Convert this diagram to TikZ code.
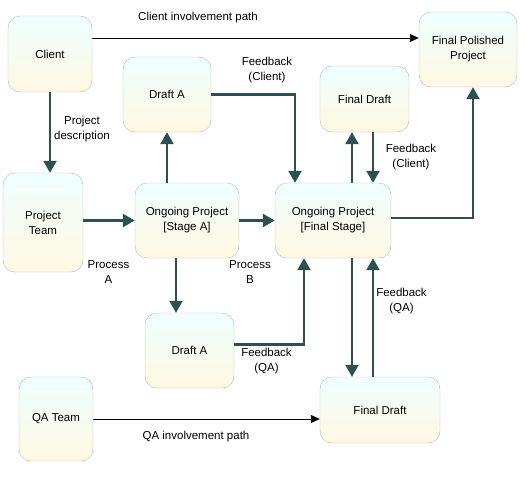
\documentclass[tikz,border=0pt]{standalone}
\usepackage{fontspec}
\setmainfont{Liberation Sans}
\usetikzlibrary{arrows.meta}
\definecolor{slate}{HTML}{2F5050}
\definecolor{boxtop}{HTML}{EEFFFF}
\definecolor{boxbot}{HTML}{FFF8E2}
\definecolor{boxline}{HTML}{B8B8B8}

\begin{document}
\begin{tikzpicture}[x=1pt, y=-1pt,
    every node/.style={font=\fontsize{11.5}{15}\selectfont},
    box/.style={draw=boxline, rounded corners=12pt, top color=boxtop, bottom color=boxbot, align=center, inner sep=2pt},
    flow/.style={-{Triangle[length=12pt, width=13pt]}, line width=2.5pt, slate},
    involve/.style={-{Triangle[length=9pt, width=8pt]}, line width=0.9pt, black},
    lbl/.style={align=center}]
    \useasboundingbox (0,0) rectangle (525,480);

    % Boxes
    \node[box, minimum width=84pt, minimum height=76pt] (client) at (50,54) {Client};
    \node[box, minimum width=88pt, minimum height=75pt] (draftA) at (167,94.5) {Draft A};
    \node[box, minimum width=80pt, minimum height=99pt] (team) at (43,222.5) {Project\\Team};
    \node[box, minimum width=104pt, minimum height=75pt] (stageA) at (187,220.5) {Ongoing Project\\{[Stage A]}};
    \node[box, minimum width=98pt, minimum height=75pt] (polished) at (468,49.5) {Final Polished\\Project};
    \node[box, minimum width=89pt, minimum height=66pt] (finalA) at (364.5,99) {Final Draft};
    \node[box, minimum width=116pt, minimum height=75pt] (stageF) at (333,220.5) {Ongoing Project\\{[Final Stage]}};
    \node[box, minimum width=89pt, minimum height=75pt] (draftB) at (189.5,350.5) {Draft A};
    \node[box, minimum width=74pt, minimum height=84pt] (qa) at (56,419) {QA Team};
    \node[box, minimum width=120pt, minimum height=66pt] (finalB) at (380,410) {Final Draft};

    % Involvement paths
    \coordinate (cp) at ([yshift=16pt]client.east);
    \draw[involve] (cp) -- (cp -| polished.west);
    \node[lbl] (cpl) at (198,18) {Client involvement path};
    \draw[involve] (qa.east) -- (qa.east -| finalB.west);
    \node[lbl] (qpl) at (196,437) {QA involvement path};

    % Process A
    \draw[flow] (client.south) -- (client.south |- team.north);
    \node[lbl] (desc) at (82,129) {Project\\description};
    \draw[flow] (team.east |- stageA.west) -- (stageA.west);
    \draw[flow] (stageA.north -| draftA.south) -- (draftA.south);
    \coordinate (sa) at ([xshift=-11pt]stageA.south);
    \draw[flow] (sa) -- (sa |- draftB.north);
    \node[lbl] (procA) at (108.5,272.5) {Process\\A};

    % Process B
    \draw[flow] (stageA.east) -- (stageF.west);
    \draw[flow] (draftA.east) -| ([xshift=-38pt]stageF.north);
    \node[lbl] (fbc1) at (267,70) {Feedback\\(Client)};
    \draw[flow] ([yshift=6pt]draftB.east) -| ([xshift=-29pt]stageF.south);
    \node[lbl] (fbq1) at (266.5,361) {Feedback\\(QA)};
    \node[lbl] (procB) at (250,272.5) {Process\\B};

    % Final stage loops
    \coordinate (fs1) at ([xshift=19pt]stageF.north);
    \coordinate (fs2) at ([xshift=40pt]stageF.north);
    \draw[flow] (fs1) -- (fs1 |- finalA.south);
    \draw[flow] (fs2 |- finalA.south) -- (fs2);
    \node[lbl] (fbc2) at (411,157) {Feedback\\(Client)};
    \coordinate (fs3) at ([xshift=19pt]stageF.south);
    \coordinate (fs4) at ([xshift=40pt]stageF.south);
    \draw[flow] (fs3) -- (fs3 |- finalB.north);
    \draw[flow] (fs4 |- finalB.north) -- (fs4);
    \node[lbl] (fbq2) at (401.5,301.5) {Feedback\\(QA)};
    \draw[flow] ([yshift=2.5pt]stageF.east) -| ([xshift=5pt]polished.south);
\end{tikzpicture}
\end{document}
